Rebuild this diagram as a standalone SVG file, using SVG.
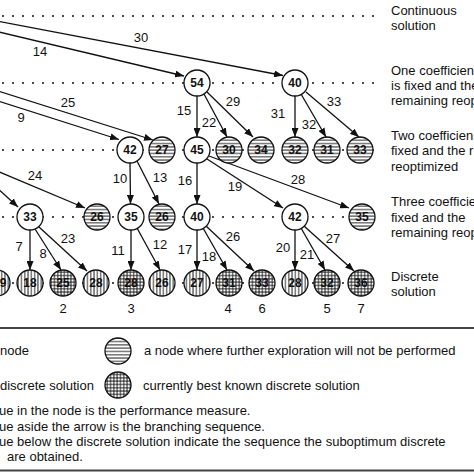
<svg xmlns="http://www.w3.org/2000/svg" width="474" height="474" viewBox="0 0 474 474">
<style>
.dot{stroke:#222;stroke-width:2.2;stroke-dasharray:0 10;stroke-linecap:round;fill:none}
.arr line{stroke:#111;stroke-width:1.3;fill:none;marker-end:url(#ah)}
.lbl{font-family:"Liberation Sans",Arial,sans-serif;font-size:13px;fill:#111;text-anchor:middle}
.txt{font-family:"Liberation Sans",Arial,sans-serif;font-size:13px;fill:#111}
.node circle{stroke:#111;stroke-width:1.3}
.node text{font-family:"Liberation Sans",Arial,sans-serif;font-size:12px;font-weight:bold;fill:#111;text-anchor:middle}
.p{fill:#fff}.h{fill:url(#hz)}.v{fill:url(#vt)}.g{fill:url(#gd)}
.rule{stroke:#444;stroke-width:2}
</style>
<defs>
<marker id="ah" markerUnits="userSpaceOnUse" viewBox="0 0 9 7" refX="9" refY="3.5" markerWidth="9" markerHeight="7" orient="auto"><path d="M0,0 L9,3.5 L0,7 z" fill="#111"/></marker>
<pattern id="hz" patternUnits="userSpaceOnUse" width="4" height="3.3"><rect width="4" height="3.3" fill="#fff"/><line x1="0" y1="1.65" x2="4" y2="1.65" stroke="#111" stroke-width="0.9"/></pattern>
<pattern id="vt" patternUnits="userSpaceOnUse" width="3.3" height="4"><rect width="3.3" height="4" fill="#fff"/><line x1="1.65" y1="0" x2="1.65" y2="4" stroke="#111" stroke-width="0.9"/></pattern>
<pattern id="gd" patternUnits="userSpaceOnUse" width="3.3" height="3.3"><rect width="3.3" height="3.3" fill="#fff"/><line x1="0" y1="1.65" x2="3.3" y2="1.65" stroke="#111" stroke-width="0.9"/><line x1="1.65" y1="0" x2="1.65" y2="3.3" stroke="#111" stroke-width="0.9"/></pattern>
</defs>
<rect width="474" height="474" fill="#fff"/>
<g id="levels">
<line class="dot" x1="3" y1="16" x2="380" y2="16"/>
<line class="dot" x1="3" y1="83" x2="380" y2="83"/>
<line class="dot" x1="3" y1="150" x2="380" y2="150"/>
<line class="dot" x1="3" y1="217" x2="380" y2="217"/>
<line class="dot" x1="3" y1="283" x2="380" y2="283"/>
</g>
<g id="connectors" class="arr">
<line x1="-10" y1="19.8" x2="283" y2="75.5"/>
<line x1="-10" y1="29.9" x2="184" y2="76"/>
<line x1="-10" y1="88.5" x2="153" y2="140"/>
<line x1="-10" y1="98.5" x2="119" y2="139.5"/>
<line x1="-10" y1="168" x2="85" y2="208"/>
<line x1="-5" y1="186" x2="18" y2="207"/>
<line x1="197" y1="96" x2="197" y2="137"/>
<line x1="204" y1="94" x2="227" y2="137"/>
<line x1="207" y1="92" x2="253" y2="137"/>
<line x1="295" y1="96" x2="295" y2="137"/>
<line x1="301" y1="94" x2="326" y2="137"/>
<line x1="306" y1="92" x2="359" y2="137"/>
<line x1="130" y1="163" x2="130.5" y2="204"/>
<line x1="137" y1="161" x2="159" y2="204"/>
<line x1="197" y1="163" x2="197" y2="204"/>
<line x1="207" y1="159" x2="283" y2="208"/>
<line x1="209" y1="156" x2="349" y2="208"/>
<line x1="30" y1="230" x2="30" y2="270"/>
<line x1="35" y1="229" x2="61" y2="270"/>
<line x1="39" y1="227" x2="87" y2="271"/>
<line x1="131" y1="230" x2="131" y2="270"/>
<line x1="137" y1="228" x2="160" y2="270"/>
<line x1="197" y1="230" x2="197" y2="270"/>
<line x1="203" y1="228" x2="227" y2="270"/>
<line x1="206" y1="226" x2="254" y2="271"/>
<line x1="295" y1="230" x2="295" y2="270"/>
<line x1="301" y1="228" x2="325" y2="270"/>
<line x1="304" y1="226" x2="354" y2="271"/>
</g>
<g id="edge-labels" class="lbl">
<text x="141" y="42">30</text>
<text x="40" y="56">14</text>
<text x="68" y="107">25</text>
<text x="21" y="122">9</text>
<text x="184" y="115">15</text>
<text x="209" y="127">22</text>
<text x="233" y="106">29</text>
<text x="278" y="118">31</text>
<text x="309" y="129">32</text>
<text x="334" y="106">33</text>
<text x="35" y="180">24</text>
<text x="120" y="183">10</text>
<text x="160" y="182">13</text>
<text x="185" y="185">16</text>
<text x="235" y="191">19</text>
<text x="298" y="184">28</text>
<text x="19" y="251">7</text>
<text x="43" y="258">8</text>
<text x="68" y="243">23</text>
<text x="118" y="255">11</text>
<text x="160" y="249">12</text>
<text x="185" y="254">17</text>
<text x="209" y="261">18</text>
<text x="233" y="241">26</text>
<text x="283" y="252">20</text>
<text x="307" y="259">21</text>
<text x="333" y="243">27</text>
</g>
<g id="n1-54" class="node"><circle class="p" cx="197" cy="83" r="13"/><text x="197" y="87.3">54</text></g>
<g id="n1-40" class="node"><circle class="p" cx="295" cy="83" r="13"/><text x="295" y="87.3">40</text></g>
<g id="n2-42" class="node"><circle class="p" cx="130" cy="150" r="13"/><text x="130" y="154.3">42</text></g>
<g id="n2-27" class="node"><circle class="h" cx="162" cy="150" r="13"/><text x="162" y="154.3">27</text></g>
<g id="n2-45" class="node"><circle class="p" cx="197" cy="150" r="13"/><text x="197" y="154.3">45</text></g>
<g id="n2-30" class="node"><circle class="h" cx="229" cy="150" r="13"/><text x="229" y="154.3">30</text></g>
<g id="n2-34" class="node"><circle class="h" cx="261" cy="150" r="13"/><text x="261" y="154.3">34</text></g>
<g id="n2-32" class="node"><circle class="h" cx="295" cy="150" r="13"/><text x="295" y="154.3">32</text></g>
<g id="n2-31" class="node"><circle class="h" cx="327" cy="150" r="13"/><text x="327" y="154.3">31</text></g>
<g id="n2-33" class="node"><circle class="h" cx="360" cy="150" r="13"/><text x="360" y="154.3">33</text></g>
<g id="n3-33" class="node"><circle class="p" cx="30" cy="217" r="13"/><text x="30" y="221.3">33</text></g>
<g id="n3-26a" class="node"><circle class="h" cx="97" cy="217" r="13"/><text x="97" y="221.3">26</text></g>
<g id="n3-35" class="node"><circle class="p" cx="131" cy="217" r="13"/><text x="131" y="221.3">35</text></g>
<g id="n3-26b" class="node"><circle class="h" cx="162" cy="217" r="13"/><text x="162" y="221.3">26</text></g>
<g id="n3-40" class="node"><circle class="p" cx="197" cy="217" r="13"/><text x="197" y="221.3">40</text></g>
<g id="n3-42" class="node"><circle class="p" cx="295" cy="217" r="13"/><text x="295" y="221.3">42</text></g>
<g id="n3-35h" class="node"><circle class="h" cx="362" cy="217" r="13"/><text x="362" y="221.3">35</text></g>
<g id="n4-9" class="node"><circle class="v" cx="-3" cy="283" r="13"/><text x="3" y="287.3">9</text></g>
<g id="n4-18" class="node"><circle class="v" cx="30" cy="283" r="13"/><text x="30" y="287.3">18</text></g>
<g id="n4-25" class="node"><circle class="g" cx="63" cy="283" r="13"/><text x="63" y="287.3">25</text></g>
<g id="n4-28a" class="node"><circle class="v" cx="96" cy="283" r="13"/><text x="96" y="287.3">28</text></g>
<g id="n4-28b" class="node"><circle class="g" cx="131" cy="283" r="13"/><text x="131" y="287.3">28</text></g>
<g id="n4-26" class="node"><circle class="v" cx="162" cy="283" r="13"/><text x="162" y="287.3">26</text></g>
<g id="n4-27" class="node"><circle class="v" cx="197" cy="283" r="13"/><text x="197" y="287.3">27</text></g>
<g id="n4-31" class="node"><circle class="g" cx="229" cy="283" r="13"/><text x="229" y="287.3">31</text></g>
<g id="n4-33" class="node"><circle class="g" cx="262" cy="283" r="13"/><text x="262" y="287.3">33</text></g>
<g id="n4-28c" class="node"><circle class="v" cx="295" cy="283" r="13"/><text x="295" y="287.3">28</text></g>
<g id="n4-32" class="node"><circle class="g" cx="327" cy="283" r="13"/><text x="327" y="287.3">32</text></g>
<g id="n4-36" class="node"><circle class="g" cx="361" cy="283" r="13"/><text x="361" y="287.3">36</text></g>
<g id="sequence" class="lbl">
<text x="63" y="313">2</text>
<text x="131" y="313">3</text>
<text x="228" y="313">4</text>
<text x="262" y="313">6</text>
<text x="327" y="313">5</text>
<text x="361" y="313">7</text>
</g>
<g id="level-labels" class="txt">
<text x="391" y="15">Continuous</text>
<text x="391" y="30">solution</text>
<text x="391" y="75">One coefficien</text>
<text x="391" y="90">is fixed and the</text>
<text x="391" y="105">remaining reop</text>
<text x="391" y="140">Two coefficien</text>
<text x="391" y="155">fixed and the r</text>
<text x="391" y="171">reoptimized</text>
<text x="391" y="206">Three coefficie</text>
<text x="391" y="222">fixed and the</text>
<text x="391" y="237">remaining reop</text>
<text x="391" y="281">Discrete</text>
<text x="391" y="296">solution</text>
</g>
<g id="legend">
<line class="rule" x1="0" y1="328" x2="474" y2="328"/>
<line class="rule" x1="0" y1="470.5" x2="474" y2="470.5"/>
<g class="node"><circle class="h" cx="118" cy="351" r="13"/></g>
<g class="node"><circle class="g" cx="118" cy="385" r="13"/></g>
<g class="txt">
<text x="0" y="355">node</text>
<text x="144" y="355">a node where further exploration will not be performed</text>
<text x="0" y="389.5">discrete solution</text>
<text x="143" y="389.5">currently best known discrete solution</text>
<text x="-1" y="414.5">ue in the node is the performance measure.</text>
<text x="-1" y="431">ue aside the arrow is the branching sequence.</text>
<text x="-1" y="446">ue below the discrete solution indicate the sequence the suboptimum discrete</text>
<text x="7" y="461">are obtained.</text>
</g>
</g>
</svg>
